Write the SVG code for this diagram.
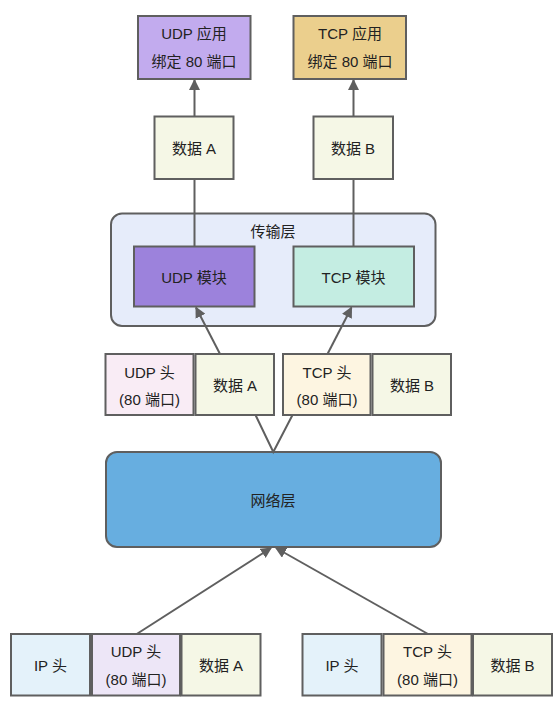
<svg xmlns="http://www.w3.org/2000/svg" width="558" height="706" viewBox="0 0 558 706">
<style>
.b{stroke:#5f5f5f;stroke-width:2}
text{font-family:"Liberation Sans","Noto Sans CJK SC",sans-serif;font-size:15px;fill:#222;text-anchor:middle;dominant-baseline:central}
.c{stroke:#5f5f5f;stroke-width:2;fill:none}
</style>
<defs>
<marker id="ah" viewBox="0 0 10 10" refX="9" refY="5" markerWidth="5.5" markerHeight="5.5" orient="auto" markerUnits="strokeWidth">
<path d="M0,0 L10,5 L0,10 Z" fill="#5f5f5f"/>
</marker>
</defs>
<rect width="558" height="706" fill="#fff"/>
<g id="transport">
<rect class="b" x="111" y="213.5" width="324.5" height="112.5" rx="11" fill="#e6ecfa"/>
<text x="273" y="231">传输层</text>
</g>
<g id="network">
<rect class="b" x="106" y="452" width="335" height="95" rx="11" fill="#67aee0"/>
<text x="273" y="500">网络层</text>
</g>
<g id="connectors">
<line class="c" x1="194.5" y1="116.5" x2="194.5" y2="80" marker-end="url(#ah)"/>
<line class="c" x1="353.5" y1="116.5" x2="353.5" y2="80" marker-end="url(#ah)"/>
<line class="c" x1="194.5" y1="179" x2="194.5" y2="246.5"/>
<line class="c" x1="353.5" y1="179" x2="353.5" y2="246.5"/>
<line class="c" x1="220" y1="354" x2="196" y2="307.5" marker-end="url(#ah)"/>
<line class="c" x1="327.5" y1="354" x2="351.5" y2="307.5" marker-end="url(#ah)"/>
<polyline class="c" points="255.5,415 273.3,452 292.5,415"/>
<line class="c" x1="136.7" y1="634" x2="271" y2="548" marker-end="url(#ah)"/>
<line class="c" x1="428" y1="634" x2="276" y2="548" marker-end="url(#ah)"/>
</g>
<g id="udp-app">
<rect class="b" x="138" y="16" width="112.5" height="63" fill="#c2abee"/>
<text x="194" y="33">UDP 应用</text>
<text x="194" y="61">绑定 80 端口</text>
</g>
<g id="tcp-app">
<rect class="b" x="293.5" y="16" width="112.5" height="63" fill="#ebcf8d"/>
<text x="350" y="33">TCP 应用</text>
<text x="350" y="61">绑定 80 端口</text>
</g>
<g id="data-a-top">
<rect class="b" x="154.5" y="116.5" width="79" height="62.5" fill="#f5f7e6"/>
<text x="194" y="148">数据 A</text>
</g>
<g id="data-b-top">
<rect class="b" x="313.5" y="116.5" width="79.5" height="62.5" fill="#f5f7e6"/>
<text x="353" y="148">数据 B</text>
</g>
<g id="udp-module">
<rect class="b" x="134" y="246.5" width="120.5" height="60" fill="#9c82dc"/>
<text x="194" y="277">UDP 模块</text>
</g>
<g id="tcp-module">
<rect class="b" x="293.5" y="246.5" width="120.5" height="60" fill="#c4ede2"/>
<text x="353.5" y="277">TCP 模块</text>
</g>
<g id="udp-header-mid">
<rect class="b" x="105.5" y="354" width="88" height="61" fill="#f9ecf5"/>
<text x="149.5" y="372">UDP 头</text>
<text x="149.5" y="399">(80 端口)</text>
</g>
<g id="data-a-mid">
<rect class="b" x="195.5" y="354" width="78.5" height="61" fill="#f5f7e6"/>
<text x="235" y="385">数据 A</text>
</g>
<g id="tcp-header-mid">
<rect class="b" x="283" y="354" width="87.5" height="61" fill="#fdf5e1"/>
<text x="327" y="372">TCP 头</text>
<text x="327" y="399">(80 端口)</text>
</g>
<g id="data-b-mid">
<rect class="b" x="372.5" y="354" width="78.5" height="61" fill="#f5f7e6"/>
<text x="412" y="385">数据 B</text>
</g>
<g id="ip-header-left">
<rect class="b" x="11" y="634" width="79" height="61.5" fill="#e4f2fa"/>
<text x="50.5" y="665">IP 头</text>
</g>
<g id="udp-header-bottom">
<rect class="b" x="92" y="634" width="88" height="61.5" fill="#ede6f7"/>
<text x="136" y="651.5">UDP 头</text>
<text x="136" y="679">(80 端口)</text>
</g>
<g id="data-a-bottom">
<rect class="b" x="181.5" y="634" width="79" height="61.5" fill="#f5f7e6"/>
<text x="221" y="665">数据 A</text>
</g>
<g id="ip-header-right">
<rect class="b" x="302.5" y="634" width="79" height="61.5" fill="#e4f2fa"/>
<text x="342" y="665">IP 头</text>
</g>
<g id="tcp-header-bottom">
<rect class="b" x="383.5" y="634" width="88" height="61.5" fill="#fdf5e1"/>
<text x="427.5" y="651.5">TCP 头</text>
<text x="427.5" y="679">(80 端口)</text>
</g>
<g id="data-b-bottom">
<rect class="b" x="473" y="634" width="79" height="61.5" fill="#f5f7e6"/>
<text x="512.5" y="665">数据 B</text>
</g>
</svg>
